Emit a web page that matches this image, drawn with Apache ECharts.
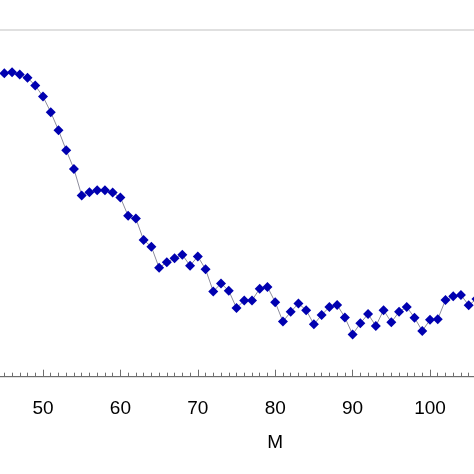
<!DOCTYPE html>
<html>
<head>
<meta charset="utf-8">
<script src="https://cdn.jsdelivr.net/npm/echarts@6/dist/echarts.min.js"></script>
<style>html,body{margin:0;padding:0;background:#fff}#c{width:474px;height:474px}</style>
</head>
<body>
<div id="c"></div>
<script>
const mValues = [45,46,47,48,49,50,51,52,53,54,55,56,57,58,59,60,61,62,63,64,65,66,67,68,69,70,71,72,73,74,75,76,77,78,79,80,81,82,83,84,85,86,87,88,89,90,91,92,93,94,95,96,97,98,99,100,101,102,103,104,105,106];
const seriesValues = [87.5,87.8,87.2,86.2,84.0,80.8,76.3,71.1,65.3,59.9,52.3,53.2,53.8,53.8,53.1,51.7,46.4,45.6,39.4,37.5,31.4,33.0,34.2,35.2,32.0,34.7,31.0,24.6,26.9,24.8,19.8,22.0,22.0,25.4,25.9,21.5,15.9,18.7,21.1,19.2,15.1,17.8,20.1,20.7,17.1,12.2,15.4,18.1,14.6,19.2,15.7,18.7,20.1,17.0,13.2,16.4,16.6,22.1,23.2,23.6,20.6,22.4];
const xTickLabels = ['40','50','60','70','80','90','100','110','120'];

const data = mValues.map((m, i) => [m, seriesValues[i]]);
const chart = echarts.init(document.getElementById('c'));
chart.setOption({
  animation: false,
  grid: { left: -34.4, right: -110.8, top: 30, bottom: 97.3, containLabel: false, outerBoundsMode: 'none' },
  xAxis: {
    type: 'value', min: 40, max: 120, interval: 10,
    name: 'M', nameLocation: 'middle', nameGap: 57,
    nameTextStyle: { color: '#000', fontSize: 19, fontFamily: 'Liberation Sans, Arial, sans-serif' },
    axisLine: { show: true, lineStyle: { color: '#6e6e6e', width: 1 } },
    axisTick: { show: true, inside: true, length: 7, lineStyle: { color: '#6e6e6e', width: 1 } },
    minorTick: { show: true, splitNumber: 10, length: 4, lineStyle: { color: '#6e6e6e', width: 1 } },
    splitLine: { show: false },
    axisLabel: {
      margin: 23, color: '#000', fontSize: 19, fontFamily: 'Liberation Sans, Arial, sans-serif',
      hideOverlap: false, showMinLabel: true, showMaxLabel: true,
      formatter: v => xTickLabels.includes(String(v)) ? String(v) : ''
    }
  },
  yAxis: {
    type: 'value', min: 0, max: 100, interval: 100,
    axisLine: { show: false }, axisTick: { show: false }, axisLabel: { show: false },
    splitLine: { show: true, lineStyle: { color: '#d6d6d6', width: 1.5 } }
  },
  series: [{
    type: 'line', data: data,
    symbol: 'diamond', symbolSize: 10,
    itemStyle: { color: '#0000b0' },
    lineStyle: { color: '#8c8c9c', width: 1 },
    clip: false
  }]
});
</script>
</body>
</html>
